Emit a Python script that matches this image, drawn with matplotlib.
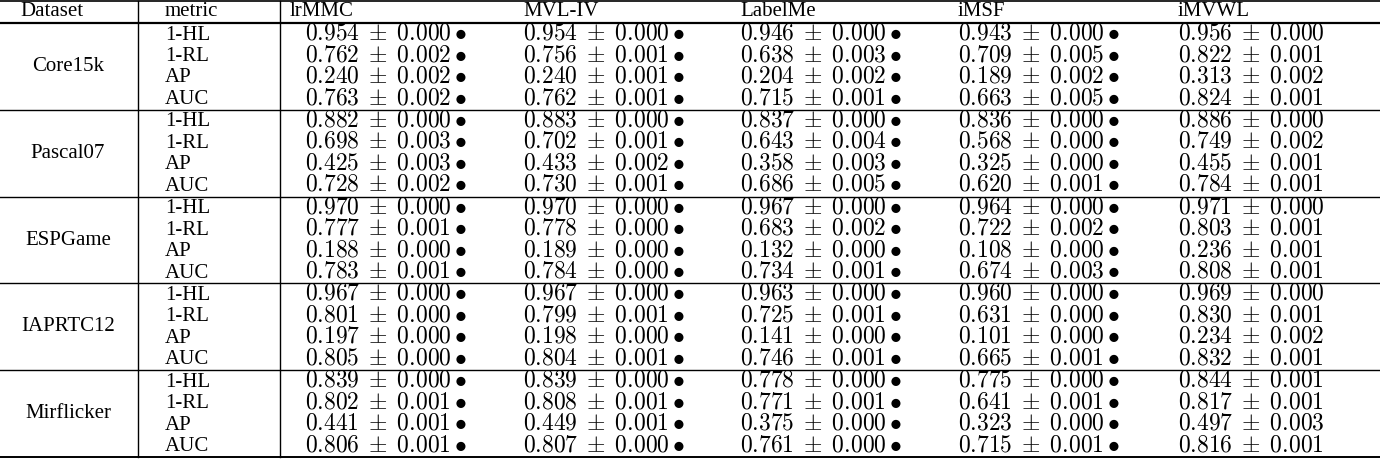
import matplotlib
matplotlib.use("Agg")
import matplotlib.pyplot as plt

plt.rcParams['mathtext.fontset'] = 'cm'

datasets = ["Core15k", "Pascal07", "ESPGame", "IAPRTC12", "Mirflicker"]
metrics = ["1-HL", "1-RL", "AP", "AUC"]
methods = ["lrMMC", "MVL-IV", "LabelMe", "iMSF", "iMVWL"]

means = [
    [[0.954, 0.954, 0.946, 0.943, 0.956],
     [0.762, 0.756, 0.638, 0.709, 0.822],
     [0.240, 0.240, 0.204, 0.189, 0.313],
     [0.763, 0.762, 0.715, 0.663, 0.824]],
    [[0.882, 0.883, 0.837, 0.836, 0.886],
     [0.698, 0.702, 0.643, 0.568, 0.749],
     [0.425, 0.433, 0.358, 0.325, 0.455],
     [0.728, 0.730, 0.686, 0.620, 0.784]],
    [[0.970, 0.970, 0.967, 0.964, 0.971],
     [0.777, 0.778, 0.683, 0.722, 0.803],
     [0.188, 0.189, 0.132, 0.108, 0.236],
     [0.783, 0.784, 0.734, 0.674, 0.808]],
    [[0.967, 0.967, 0.963, 0.960, 0.969],
     [0.801, 0.799, 0.725, 0.631, 0.830],
     [0.197, 0.198, 0.141, 0.101, 0.234],
     [0.805, 0.804, 0.746, 0.665, 0.832]],
    [[0.839, 0.839, 0.778, 0.775, 0.844],
     [0.802, 0.808, 0.771, 0.641, 0.817],
     [0.441, 0.449, 0.375, 0.323, 0.497],
     [0.806, 0.807, 0.761, 0.715, 0.816]],
]
stds = [
    [[0.000, 0.000, 0.000, 0.000, 0.000],
     [0.002, 0.001, 0.003, 0.005, 0.001],
     [0.002, 0.001, 0.002, 0.002, 0.002],
     [0.002, 0.001, 0.001, 0.005, 0.001]],
    [[0.000, 0.000, 0.000, 0.000, 0.000],
     [0.003, 0.001, 0.004, 0.000, 0.002],
     [0.003, 0.002, 0.003, 0.000, 0.001],
     [0.002, 0.001, 0.005, 0.001, 0.001]],
    [[0.000, 0.000, 0.000, 0.000, 0.000],
     [0.001, 0.000, 0.002, 0.002, 0.001],
     [0.000, 0.000, 0.000, 0.000, 0.001],
     [0.001, 0.000, 0.001, 0.003, 0.001]],
    [[0.000, 0.000, 0.000, 0.000, 0.000],
     [0.000, 0.001, 0.001, 0.000, 0.001],
     [0.000, 0.000, 0.000, 0.000, 0.002],
     [0.000, 0.001, 0.001, 0.001, 0.001]],
    [[0.000, 0.000, 0.000, 0.000, 0.001],
     [0.001, 0.001, 0.001, 0.001, 0.001],
     [0.001, 0.001, 0.000, 0.000, 0.003],
     [0.001, 0.000, 0.000, 0.001, 0.001]],
]

W, H = 1380, 461
fig = plt.figure(figsize=(W/100, H/100), dpi=100)
ax = fig.add_axes([0, 0, 1, 1])
ax.set_xlim(0, W); ax.set_ylim(H, 0); ax.axis('off')

serif = 'Liberation Serif'
fs = 15
nfs = 17
col_x = [305, 523, 740, 958, 1178]
head_x = [290, 523, 740, 958, 1178]
bo = 5.5  # baseline offset from row centre

ax.text(20, 11 + bo, "Dataset", family=serif, fontsize=fs, va='baseline')
ax.text(165, 11 + bo, "metric", family=serif, fontsize=fs, va='baseline')
for x, m in zip(head_x, methods):
    ax.text(x, 11 + bo, m, family=serif, fontsize=fs, va='baseline')

ax.plot([0, W], [1.5, 1.5], color='k', lw=1.2)
ax.plot([0, W], [23, 23], color='k', lw=1.6)

group_top = 23
gh = 86.8
for gi, ds in enumerate(datasets):
    y0 = group_top + gi * gh
    ax.text(68, y0 + gh/2, ds, family=serif, fontsize=fs, va='center', ha='center')
    for mi, met in enumerate(metrics):
        y = y0 + 11 + mi * 21.5
        ax.text(165, y + bo, met, family=serif, fontsize=fs, va='baseline')
        for ci in range(5):
            s = r"$%.3f\;\pm\;%.3f$" % (means[gi][mi][ci], stds[gi][mi][ci])
            if ci < 4:
                s = s[:-1] + r"\bullet$"
            ax.text(col_x[ci], y + bo, s, fontsize=nfs, va='baseline')
    ax.plot([0, W], [y0 + gh, y0 + gh], color='k', lw=1.0 if gi < 4 else 1.4)

ax.plot([138, 138], [1.5, group_top + 5*gh], color='k', lw=1.0)
ax.plot([280, 280], [1.5, group_top + 5*gh], color='k', lw=1.0)

fig.savefig("out.png", dpi=100)
